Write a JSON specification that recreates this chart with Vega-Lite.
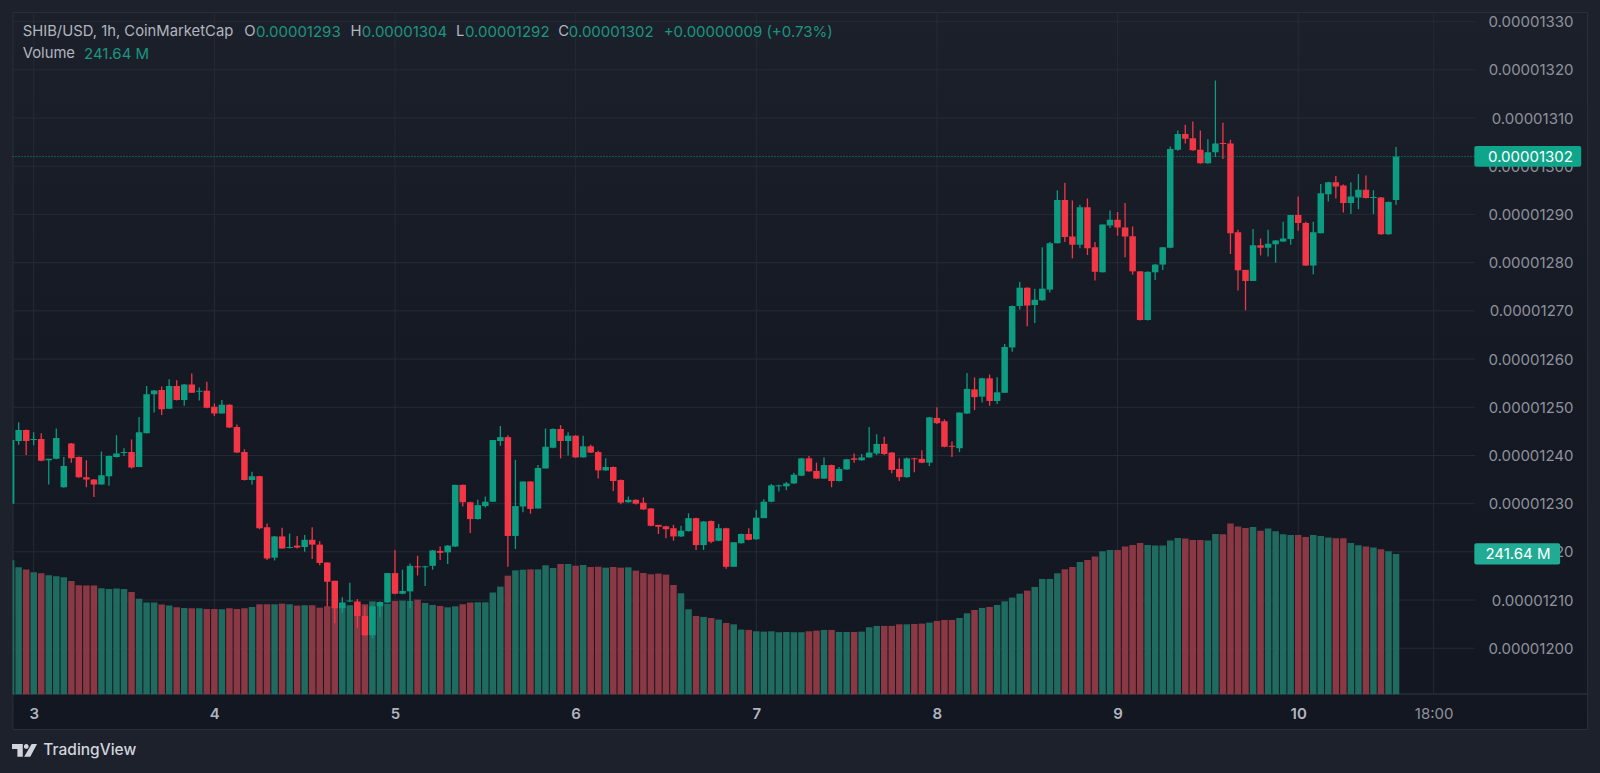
{"$schema":"https://vega.github.io/schema/vega-lite/v6.json","autosize":"none","width":1574.5,"height":717,"padding":{"left":12.5,"top":12,"right":13,"bottom":44},"background":"#1d212c","view":{"stroke":"#2a2e39","fill":{"gradient":"linear","x1":0,"y1":0,"x2":0,"y2":1,"stops":[{"offset":0,"color":"#1c202b"},{"offset":0.5,"color":"#151924"},{"offset":1,"color":"#131722"}]}},
"datasets":{"candles":[
{"t":-3,"o":1230,"c":1243.2,"hi":1243.2,"lo":1230,"v":230.7},
{"t":-2,"o":1243,"c":1245.3,"hi":1246.9,"lo":1242.2,"v":218.7},
{"t":-1,"o":1245.3,"c":1243,"hi":1245.4,"lo":1240.1,"v":214.7},
{"t":0,"o":1243.2,"c":1243.4,"hi":1244.8,"lo":1242.1,"v":210},
{"t":1,"o":1243.4,"c":1238.9,"hi":1244.6,"lo":1238.8,"v":208.4},
{"t":2,"o":1239,"c":1239.3,"hi":1239.3,"lo":1234,"v":204.9},
{"t":3,"o":1239.3,"c":1243.6,"hi":1245.6,"lo":1239.2,"v":203.2},
{"t":4,"o":1233.4,"c":1237.8,"hi":1239.7,"lo":1233.3,"v":201.5},
{"t":5,"o":1242.5,"c":1239.4,"hi":1242.6,"lo":1238.5,"v":195.2},
{"t":6,"o":1239.7,"c":1235.5,"hi":1239.8,"lo":1235.4,"v":187.7},
{"t":7,"o":1235.5,"c":1235,"hi":1239,"lo":1233.4,"v":187.1},
{"t":8,"o":1235,"c":1234,"hi":1235.1,"lo":1231.4,"v":187.1},
{"t":9,"o":1234,"c":1235.9,"hi":1240.8,"lo":1234,"v":182.5},
{"t":10,"o":1235.7,"c":1239.9,"hi":1240,"lo":1233.7,"v":181.4},
{"t":11,"o":1239.7,"c":1240.4,"hi":1244.2,"lo":1239.6,"v":182},
{"t":12,"o":1240.5,"c":1240.7,"hi":1241.5,"lo":1239.9,"v":181.4},
{"t":13,"o":1240.7,"c":1237.5,"hi":1243.3,"lo":1237.3,"v":176.2},
{"t":14,"o":1237.6,"c":1244.8,"hi":1248,"lo":1237.6,"v":164.7},
{"t":15,"o":1244.6,"c":1252.7,"hi":1254.4,"lo":1244.6,"v":157.9},
{"t":16,"o":1252.7,"c":1253.5,"hi":1253.6,"lo":1248.9,"v":157.9},
{"t":17,"o":1253.6,"c":1249.6,"hi":1254.3,"lo":1248.4,"v":154.4},
{"t":18,"o":1249.7,"c":1254.4,"hi":1255.8,"lo":1249.7,"v":152.7},
{"t":19,"o":1254.4,"c":1251.5,"hi":1255.6,"lo":1251.4,"v":149.8},
{"t":20,"o":1251.5,"c":1254.7,"hi":1254.8,"lo":1250.3,"v":148.7},
{"t":21,"o":1254.7,"c":1253,"hi":1257,"lo":1253,"v":148.1},
{"t":22,"o":1253.2,"c":1253.4,"hi":1254.1,"lo":1251.4,"v":148.1},
{"t":23,"o":1253.4,"c":1249.9,"hi":1255.3,"lo":1249.8,"v":146.9},
{"t":24,"o":1250.1,"c":1248.7,"hi":1250.8,"lo":1248.2,"v":146.9},
{"t":25,"o":1248.7,"c":1250.5,"hi":1251.5,"lo":1248.7,"v":146.4},
{"t":26,"o":1250.5,"c":1245.8,"hi":1250.6,"lo":1245.7,"v":148.1},
{"t":27,"o":1245.9,"c":1240.6,"hi":1246.4,"lo":1240.5,"v":146.9},
{"t":28,"o":1240.7,"c":1234.9,"hi":1241.3,"lo":1234.8,"v":148.1},
{"t":29,"o":1234.9,"c":1235.7,"hi":1236.6,"lo":1234,"v":150.4},
{"t":30,"o":1235.7,"c":1224.9,"hi":1235.8,"lo":1224.7,"v":155},
{"t":31,"o":1225.1,"c":1218.6,"hi":1225.9,"lo":1218.3,"v":155},
{"t":32,"o":1218.8,"c":1223.2,"hi":1223.3,"lo":1218.2,"v":155},
{"t":33,"o":1223.2,"c":1220.7,"hi":1225,"lo":1220.7,"v":156.1},
{"t":34,"o":1220.8,"c":1221,"hi":1223.8,"lo":1220.7,"v":155},
{"t":35,"o":1221.3,"c":1220.9,"hi":1223.3,"lo":1220.7,"v":152.7},
{"t":36,"o":1221,"c":1222.5,"hi":1223.5,"lo":1220,"v":153.3},
{"t":37,"o":1222.5,"c":1221.5,"hi":1225.1,"lo":1218.5,"v":153.3},
{"t":38,"o":1221.5,"c":1217.7,"hi":1222.2,"lo":1217.2,"v":149.2},
{"t":39,"o":1217.8,"c":1213.8,"hi":1217.8,"lo":1208.6,"v":151.5},
{"t":40,"o":1214,"c":1208.3,"hi":1214,"lo":1205.2,"v":151.5},
{"t":41,"o":1208.3,"c":1209.5,"hi":1210.6,"lo":1207.3,"v":153.3},
{"t":42,"o":1209.7,"c":1209.9,"hi":1213.6,"lo":1209.6,"v":153.3},
{"t":43,"o":1209.7,"c":1206.7,"hi":1210.2,"lo":1204.2,"v":156.1},
{"t":44,"o":1206.7,"c":1202.7,"hi":1208.7,"lo":1202.6,"v":155},
{"t":45,"o":1202.7,"c":1208.7,"hi":1208.8,"lo":1202.1,"v":160},
{"t":46,"o":1208.7,"c":1209.6,"hi":1209.7,"lo":1206.4,"v":157.9},
{"t":47,"o":1209.5,"c":1215.6,"hi":1215.6,"lo":1209.4,"v":156},
{"t":48,"o":1215.6,"c":1211.3,"hi":1220.4,"lo":1211.2,"v":160.7},
{"t":49,"o":1211.3,"c":1211.9,"hi":1216.3,"lo":1211.2,"v":161.3},
{"t":50,"o":1211.8,"c":1217.1,"hi":1217.6,"lo":1208.3,"v":160.7},
{"t":51,"o":1217,"c":1216.8,"hi":1219.2,"lo":1215.1,"v":163},
{"t":52,"o":1216.8,"c":1217,"hi":1217.1,"lo":1212.9,"v":157.3},
{"t":53,"o":1217.1,"c":1220.3,"hi":1220.4,"lo":1216.3,"v":153.8},
{"t":54,"o":1220.2,"c":1219.8,"hi":1221.1,"lo":1218.3,"v":152.1},
{"t":55,"o":1219.9,"c":1221.3,"hi":1221.4,"lo":1217.5,"v":149.8},
{"t":56,"o":1221.1,"c":1233.9,"hi":1233.9,"lo":1221,"v":151.5},
{"t":57,"o":1233.9,"c":1230.3,"hi":1234,"lo":1229.4,"v":155},
{"t":58,"o":1230.3,"c":1226.8,"hi":1230.4,"lo":1223.9,"v":157.9},
{"t":59,"o":1226.8,"c":1229.7,"hi":1230.8,"lo":1226.7,"v":158.4},
{"t":60,"o":1229.5,"c":1230.4,"hi":1231.5,"lo":1229.2,"v":158.4},
{"t":61,"o":1230.4,"c":1243.2,"hi":1243.2,"lo":1230.4,"v":175.3},
{"t":62,"o":1243,"c":1243.8,"hi":1246.1,"lo":1242,"v":185.4},
{"t":63,"o":1243.8,"c":1223.3,"hi":1244.2,"lo":1216.9,"v":204.2},
{"t":64,"o":1223.3,"c":1229.5,"hi":1239.1,"lo":1220.6,"v":213.4},
{"t":65,"o":1229.4,"c":1234.6,"hi":1234.6,"lo":1228.2,"v":214.6},
{"t":66,"o":1234.6,"c":1228.9,"hi":1234.7,"lo":1227.9,"v":215.1},
{"t":67,"o":1229,"c":1237.4,"hi":1238,"lo":1229,"v":215.1},
{"t":68,"o":1237.3,"c":1241.8,"hi":1245.6,"lo":1237.3,"v":222},
{"t":69,"o":1241.6,"c":1245.5,"hi":1245.6,"lo":1241.5,"v":217.4},
{"t":70,"o":1245.5,"c":1243,"hi":1246.3,"lo":1239.4,"v":224.3},
{"t":71,"o":1243,"c":1244.1,"hi":1244.8,"lo":1240,"v":224.3},
{"t":72,"o":1244.1,"c":1239.6,"hi":1244.2,"lo":1239.5,"v":221.4},
{"t":73,"o":1239.6,"c":1241.9,"hi":1244.1,"lo":1239.6,"v":222.6},
{"t":74,"o":1241.9,"c":1240.6,"hi":1242.2,"lo":1240.5,"v":219.2},
{"t":75,"o":1240.7,"c":1236.9,"hi":1241,"lo":1235.2,"v":219.8},
{"t":76,"o":1236.9,"c":1237.6,"hi":1239.4,"lo":1236.8,"v":218},
{"t":77,"o":1237.6,"c":1234.7,"hi":1237.7,"lo":1232.6,"v":219.2},
{"t":78,"o":1234.9,"c":1230.2,"hi":1235,"lo":1229.9,"v":218},
{"t":79,"o":1230.3,"c":1230.8,"hi":1231.5,"lo":1230.2,"v":218.6},
{"t":80,"o":1230.8,"c":1230,"hi":1230.9,"lo":1229.8,"v":212.9},
{"t":81,"o":1230.2,"c":1228.8,"hi":1231.3,"lo":1228.7,"v":208.9},
{"t":82,"o":1229,"c":1225.4,"hi":1229.1,"lo":1225.3,"v":206.6},
{"t":83,"o":1225.6,"c":1225.2,"hi":1225.6,"lo":1223.7,"v":207.8},
{"t":84,"o":1225.3,"c":1224.7,"hi":1225.4,"lo":1222.8,"v":206},
{"t":85,"o":1224.9,"c":1223.2,"hi":1225.6,"lo":1222.3,"v":188.2},
{"t":86,"o":1223.2,"c":1224.4,"hi":1225.4,"lo":1223.1,"v":173.9},
{"t":87,"o":1224.3,"c":1227,"hi":1228,"lo":1224.2,"v":146.4},
{"t":88,"o":1227,"c":1221.4,"hi":1227.1,"lo":1220.4,"v":134.9},
{"t":89,"o":1221.4,"c":1226.3,"hi":1226.4,"lo":1220.4,"v":133.2},
{"t":90,"o":1226.4,"c":1222.1,"hi":1226.5,"lo":1221.8,"v":131.4},
{"t":91,"o":1222.3,"c":1224.9,"hi":1225.8,"lo":1222.2,"v":128.6},
{"t":92,"o":1224.9,"c":1216.9,"hi":1225,"lo":1216.5,"v":122.8},
{"t":93,"o":1216.9,"c":1222,"hi":1222,"lo":1216.9,"v":120.5},
{"t":94,"o":1221.8,"c":1223.7,"hi":1223.8,"lo":1221.7,"v":111.4},
{"t":95,"o":1223.7,"c":1222.5,"hi":1224.9,"lo":1222.4,"v":110.8},
{"t":96,"o":1222.6,"c":1227.1,"hi":1228.7,"lo":1222.5,"v":108.5},
{"t":97,"o":1227,"c":1230.4,"hi":1230.9,"lo":1227,"v":107.9},
{"t":98,"o":1230.4,"c":1233.8,"hi":1234.1,"lo":1230.3,"v":108.5},
{"t":99,"o":1233.6,"c":1233.8,"hi":1233.9,"lo":1232.5,"v":106.8},
{"t":100,"o":1233.6,"c":1234.2,"hi":1234.5,"lo":1232.8,"v":107.3},
{"t":101,"o":1234.2,"c":1236,"hi":1236.4,"lo":1234.1,"v":106.8},
{"t":102,"o":1235.8,"c":1239.4,"hi":1239.5,"lo":1235.7,"v":106.8},
{"t":103,"o":1239.4,"c":1236.7,"hi":1239.9,"lo":1236.6,"v":108.5},
{"t":104,"o":1236.8,"c":1235.2,"hi":1238.5,"lo":1235.1,"v":109.6},
{"t":105,"o":1235.2,"c":1238,"hi":1239.6,"lo":1235.1,"v":110.8},
{"t":106,"o":1238,"c":1234.7,"hi":1238.1,"lo":1233.4,"v":110.8},
{"t":107,"o":1234.7,"c":1237.2,"hi":1237.6,"lo":1234.6,"v":107.3},
{"t":108,"o":1237.1,"c":1239.2,"hi":1239.3,"lo":1237,"v":107.3},
{"t":109,"o":1239.4,"c":1239.1,"hi":1240.4,"lo":1238.5,"v":107.3},
{"t":110,"o":1239,"c":1239.6,"hi":1240.3,"lo":1238.9,"v":107.9},
{"t":111,"o":1239.6,"c":1240.6,"hi":1245.9,"lo":1239.5,"v":115.4},
{"t":112,"o":1240.4,"c":1242.4,"hi":1244.4,"lo":1240.1,"v":117.7},
{"t":113,"o":1242.4,"c":1240.3,"hi":1243.9,"lo":1240.1,"v":117.7},
{"t":114,"o":1240.6,"c":1237,"hi":1240.7,"lo":1236.3,"v":117.7},
{"t":115,"o":1237.2,"c":1235.5,"hi":1239.4,"lo":1234.7,"v":120.5},
{"t":116,"o":1235.5,"c":1239.4,"hi":1239.6,"lo":1235.4,"v":120.5},
{"t":117,"o":1239.4,"c":1239.2,"hi":1239.5,"lo":1236.5,"v":121.1},
{"t":118,"o":1239.3,"c":1238.5,"hi":1241.1,"lo":1238.4,"v":121.7},
{"t":119,"o":1238.5,"c":1247.9,"hi":1248,"lo":1237.8,"v":123.4},
{"t":120,"o":1247.8,"c":1246.7,"hi":1250,"lo":1246.5,"v":126.3},
{"t":121,"o":1247.1,"c":1241.8,"hi":1247.5,"lo":1241.7,"v":128},
{"t":122,"o":1242,"c":1241.8,"hi":1242.9,"lo":1239.7,"v":128},
{"t":123,"o":1241.5,"c":1248.9,"hi":1248.9,"lo":1240.7,"v":131.4},
{"t":124,"o":1248.7,"c":1253.8,"hi":1257.1,"lo":1248.6,"v":139.5},
{"t":125,"o":1253.7,"c":1252.1,"hi":1256.2,"lo":1249.4,"v":145.2},
{"t":126,"o":1252.2,"c":1256,"hi":1256.1,"lo":1251,"v":148.7},
{"t":127,"o":1256,"c":1251.3,"hi":1256.8,"lo":1250.3,"v":150.4},
{"t":128,"o":1251.3,"c":1253.1,"hi":1256.2,"lo":1250.7,"v":153.8},
{"t":129,"o":1253,"c":1262.5,"hi":1263.1,"lo":1253,"v":160.1},
{"t":130,"o":1262.4,"c":1271,"hi":1271.1,"lo":1261.5,"v":166.5},
{"t":131,"o":1271,"c":1274.8,"hi":1276,"lo":1270.3,"v":173.3},
{"t":132,"o":1274.8,"c":1271.1,"hi":1274.9,"lo":1266.8,"v":178.5},
{"t":133,"o":1271.2,"c":1272.3,"hi":1274.6,"lo":1267.5,"v":184.8},
{"t":134,"o":1272.2,"c":1274.6,"hi":1283.2,"lo":1272.1,"v":198.6},
{"t":135,"o":1274.4,"c":1284,"hi":1284.3,"lo":1273.8,"v":198.6},
{"t":136,"o":1284,"c":1293,"hi":1295,"lo":1284,"v":208.4},
{"t":137,"o":1293,"c":1285.3,"hi":1296.6,"lo":1284.3,"v":215.3},
{"t":138,"o":1285.4,"c":1283.7,"hi":1292.9,"lo":1280.9,"v":219.3},
{"t":139,"o":1283.7,"c":1291.5,"hi":1292,"lo":1283,"v":227.9},
{"t":140,"o":1291.5,"c":1283,"hi":1293.3,"lo":1281.6,"v":231.3},
{"t":141,"o":1283.2,"c":1278.1,"hi":1284.3,"lo":1276.3,"v":237.1},
{"t":142,"o":1278,"c":1287.9,"hi":1287.9,"lo":1278,"v":246.2},
{"t":143,"o":1287.7,"c":1288.9,"hi":1290.8,"lo":1287.2,"v":248.5},
{"t":144,"o":1288.9,"c":1287.3,"hi":1290.5,"lo":1285.6,"v":248.5},
{"t":145,"o":1287.3,"c":1285.4,"hi":1292.4,"lo":1281.1,"v":254.3},
{"t":146,"o":1285.5,"c":1278.2,"hi":1287.5,"lo":1277.5,"v":257.2},
{"t":147,"o":1278.2,"c":1268.1,"hi":1278.2,"lo":1268,"v":260.6},
{"t":148,"o":1268.1,"c":1278.1,"hi":1278.2,"lo":1268,"v":257.2},
{"t":149,"o":1278,"c":1279.6,"hi":1279.7,"lo":1276.4,"v":256},
{"t":150,"o":1279.6,"c":1283.2,"hi":1283.2,"lo":1278.5,"v":256},
{"t":151,"o":1283.1,"c":1303.6,"hi":1304.1,"lo":1283,"v":264.6},
{"t":152,"o":1303.4,"c":1306.7,"hi":1307.4,"lo":1303.2,"v":269.2},
{"t":153,"o":1306.7,"c":1305.7,"hi":1308.6,"lo":1304.7,"v":268.1},
{"t":154,"o":1305.8,"c":1303.3,"hi":1309.3,"lo":1303.2,"v":265.8},
{"t":155,"o":1303.4,"c":1300.6,"hi":1307.4,"lo":1300.5,"v":265.8},
{"t":156,"o":1300.6,"c":1302.9,"hi":1305.6,"lo":1300.5,"v":264.6},
{"t":157,"o":1302.9,"c":1304.7,"hi":1317.8,"lo":1301.9,"v":276.1},
{"t":158,"o":1304.8,"c":1304.6,"hi":1309,"lo":1301.5,"v":275.5},
{"t":159,"o":1304.7,"c":1286.1,"hi":1305.5,"lo":1281.8,"v":293.9},
{"t":160,"o":1286.3,"c":1278.4,"hi":1286.8,"lo":1274.2,"v":288.7},
{"t":161,"o":1278.5,"c":1276.2,"hi":1278.5,"lo":1270.1,"v":286.4},
{"t":162,"o":1276.2,"c":1283.6,"hi":1287,"lo":1276.2,"v":288.1},
{"t":163,"o":1283.6,"c":1283.1,"hi":1285,"lo":1281.5,"v":281.8},
{"t":164,"o":1283.1,"c":1283.9,"hi":1286.8,"lo":1281.3,"v":285.3},
{"t":165,"o":1283.8,"c":1284.6,"hi":1284.7,"lo":1280,"v":280.7},
{"t":166,"o":1284.4,"c":1285,"hi":1288.5,"lo":1284.3,"v":275.5},
{"t":167,"o":1284.9,"c":1289.9,"hi":1289.9,"lo":1283.7,"v":274.4},
{"t":168,"o":1289.9,"c":1288.2,"hi":1293.7,"lo":1286.6,"v":274.4},
{"t":169,"o":1288.2,"c":1279.4,"hi":1288.5,"lo":1279.3,"v":270.9},
{"t":170,"o":1279.4,"c":1286.3,"hi":1288.5,"lo":1277.6,"v":274.4},
{"t":171,"o":1286.1,"c":1294.4,"hi":1296.3,"lo":1286.1,"v":272.7},
{"t":172,"o":1294.2,"c":1296.7,"hi":1296.8,"lo":1292.7,"v":269.8},
{"t":173,"o":1296.7,"c":1295.8,"hi":1298,"lo":1293.3,"v":268.6},
{"t":174,"o":1296,"c":1292.4,"hi":1296.2,"lo":1290.4,"v":268.6},
{"t":175,"o":1292.4,"c":1293.7,"hi":1296.7,"lo":1290.1,"v":260.6},
{"t":176,"o":1293.5,"c":1295.1,"hi":1298.4,"lo":1291.1,"v":256.6},
{"t":177,"o":1295.1,"c":1293.4,"hi":1298.1,"lo":1293.3,"v":254.3},
{"t":178,"o":1293.4,"c":1293.6,"hi":1295,"lo":1290.1,"v":252.6},
{"t":179,"o":1293.5,"c":1285.9,"hi":1293.6,"lo":1285.8,"v":249.7},
{"t":180,"o":1285.9,"c":1292.6,"hi":1292.7,"lo":1285.8,"v":246.2},
{"t":181,"o":1293,"c":1302,"hi":1304,"lo":1292,"v":241.64}
]},
"encoding":{"x":{"field":"t","type":"quantitative","title":null,"scale":{"domain":[-2.817,206.37],"nice":false,"zero":false,"padding":0},
"axis":{"orient":"bottom","offset":-16,"labelPadding":0,"ticks":false,"domain":false,"grid":false,"title":null,"values":[0,24,48,72,96,120,144,168,186],"labelExpr":"datum.value==186?'18:00':''+(3+datum.value/24)","labelFont":"Inter","labelFontSize":15,"labelBaseline":"middle","labelAlign":"center","labelColor":{"condition":{"test":"datum.value==186","value":"#8f929b"},"value":"#b2b5be"},"labelFontWeight":{"condition":{"test":"datum.value==186","value":"normal"},"value":600},"labelOverlap":false,"labelBound":false,"labelFlush":false}}},
"layer":[
{"data":{"values":[{"t":0},{"t":24},{"t":48},{"t":72},{"t":96},{"t":120},{"t":144},{"t":168},{"t":186}]},
"mark":{"type":"rule","color":"#262a35","strokeWidth":1},
"encoding":{"y":{"datum":1332,"type":"quantitative","axis":null,"scale":{"domain":[1183.25,1332],"nice":false,"zero":false}},"y2":{"datum":1190.5}}},
{"data":{"values":[{"p":1200,"t":-2.817,"b":191.5},{"p":1210,"t":-2.817,"b":191.5},{"p":1220,"t":-2.817,"b":191.5},{"p":1230,"t":-2.817,"b":191.5},{"p":1240,"t":-2.817,"b":191.5},{"p":1250,"t":-2.817,"b":191.5},{"p":1260,"t":-2.817,"b":191.5},{"p":1270,"t":-2.817,"b":191.5},{"p":1280,"t":-2.817,"b":191.5},{"p":1290,"t":-2.817,"b":191.5},{"p":1300,"t":-2.817,"b":191.5},{"p":1310,"t":-2.817,"b":191.5},{"p":1320,"t":-2.817,"b":191.5},{"p":1330,"t":-2.817,"b":191.5}]},
"mark":{"type":"rule","color":"#262a35","strokeWidth":1},
"encoding":{"x2":{"field":"b"},
"y":{"field":"p","type":"quantitative","title":null,"scale":{"domain":[1183.25,1332],"nice":false,"zero":false},
"axis":{"orient":"right","offset":-14,"labelPadding":0,"ticks":false,"domain":false,"grid":false,"title":null,"values":[1200,1210,1220,1230,1240,1250,1260,1270,1280,1290,1300,1310,1320,1330],"labelExpr":"format(datum.value*1e-8,'.8f')","labelFont":"Inter","labelFontSize":15,"labelColor":"#8f929b","labelAlign":"right","labelBaseline":"middle","labelOverlap":false,"labelBound":false,"labelFlush":false}}}},
{"data":{"values":[{"p":1190.5,"t":-2.817,"b":206.37}]},"mark":{"type":"rule","color":"#2a2e39","strokeWidth":1.5},
"encoding":{"x2":{"field":"b"},"y":{"field":"p","type":"quantitative","axis":null,"scale":{"domain":[1183.25,1332],"nice":false,"zero":false}}}},
{"data":{"name":"candles"},"mark":{"type":"bar","size":6.5,"clip":true},
"encoding":{"y":{"field":"v","type":"quantitative","axis":null,"stack":null,"scale":{"domain":[-59.8,1174.9],"nice":false,"zero":false}},"y2":{"datum":0},
"color":{"condition":{"test":"datum.c>=datum.o","value":"#1f6b60"},"value":"#8a3843"}}},
{"data":{"name":"candles"},"mark":{"type":"rule","strokeWidth":1.3,"clip":true},
"encoding":{"y":{"field":"lo","type":"quantitative","axis":null,"scale":{"domain":[1183.25,1332],"nice":false,"zero":false}},"y2":{"field":"hi"},
"color":{"condition":{"test":"datum.c>=datum.o","value":"#0b9c82"},"value":"#f23645"}}},
{"data":{"name":"candles"},"mark":{"type":"bar","size":6.5,"clip":true},
"encoding":{"y":{"field":"o","type":"quantitative","axis":null,"stack":null,"scale":{"domain":[1183.25,1332],"nice":false,"zero":false}},"y2":{"field":"c"},
"color":{"condition":{"test":"datum.c>=datum.o","value":"#0b9c82"},"value":"#f23645"}}},
{"data":{"values":[{"p":1302,"t":-2.817,"b":191.5}]},"mark":{"type":"rule","color":"#0b9c82","strokeWidth":1,"strokeDash":[1,2]},
"encoding":{"x2":{"field":"b"},"y":{"field":"p","type":"quantitative","axis":null,"scale":{"domain":[1183.25,1332],"nice":false,"zero":false}}}},
{"data":{"values":[{"t":191.4,"b":205.6,"p1":1299.9,"p2":1304.2,"k":"price"},{"t":191.4,"b":202.8,"p1":1217.4,"p2":1221.8,"k":"vol"}]},
"mark":{"type":"rect","cornerRadius":2},
"encoding":{"x2":{"field":"b"},"y":{"field":"p1","type":"quantitative","axis":null,"scale":{"domain":[1183.25,1332],"nice":false,"zero":false}},"y2":{"field":"p2"},
"color":{"condition":{"test":"datum.k=='price'","value":"#0ea58a"},"value":"#22ab94"}}},
{"data":{"values":[{"t":204.5,"p":1302,"label":"0.00001302"}]},"mark":{"type":"text","align":"right","baseline":"middle","font":"Inter","fontSize":15,"color":"#ffffff"},
"encoding":{"y":{"field":"p","type":"quantitative","axis":null,"scale":{"domain":[1183.25,1332],"nice":false,"zero":false}},"text":{"field":"label"}}},
{"data":{"values":[{"t":197.2,"p":1219.6,"label":"241.64 M"}]},"mark":{"type":"text","align":"center","baseline":"middle","font":"Inter","fontSize":15,"color":"#ffffff"},
"encoding":{"y":{"field":"p","type":"quantitative","axis":null,"scale":{"domain":[1183.25,1332],"nice":false,"zero":false}},"text":{"field":"label"}}},
{"data":{"values":[{"t":-1.46,"p":1327.8,"label":"SHIB/USD, 1h, CoinMarketCap"},{"t":27.98,"p":1327.8,"label":"O"},{"t":42.1,"p":1327.8,"label":"H"},{"t":56.1,"p":1327.8,"label":"L"},{"t":69.7,"p":1327.8,"label":"C"},{"t":-1.46,"p":1323.3,"label":"Volume"}]},
"mark":{"type":"text","align":"left","baseline":"middle","font":"Inter","fontSize":14.8,"color":"#b2b5be"},
"encoding":{"y":{"field":"p","type":"quantitative","axis":null,"scale":{"domain":[1183.25,1332],"nice":false,"zero":false}},"text":{"field":"label"}}},
{"data":{"values":[{"t":29.53,"p":1327.8,"label":"0.00001293"},{"t":43.6,"p":1327.8,"label":"0.00001304"},{"t":57.3,"p":1327.8,"label":"0.00001292"},{"t":71.1,"p":1327.8,"label":"0.00001302"},{"t":83.7,"p":1327.8,"label":"+0.00000009 (+0.73%)"},{"t":6.68,"p":1323.3,"label":"241.64 M"}]},
"mark":{"type":"text","align":"left","baseline":"middle","font":"Inter","fontSize":15,"color":"#1a9680"},
"encoding":{"y":{"field":"p","type":"quantitative","axis":null,"scale":{"domain":[1183.25,1332],"nice":false,"zero":false}},"text":{"field":"label"}}},
{"data":{"values":[{"t":1.28,"p":1178.8,"label":"TradingView"}]},
"mark":{"type":"text","align":"left","baseline":"middle","font":"Inter","fontSize":15.5,"fontWeight":500,"color":"#d1d4dc"},
"encoding":{"y":{"field":"p","type":"quantitative","axis":null,"scale":{"domain":[1183.25,1332],"nice":false,"zero":false}},"text":{"field":"label"}}},
{"data":{"values":[{"t":-1.22,"p":1178.8}]},
"mark":{"type":"point","filled":true,"opacity":1,"size":625,"color":"#d1d4dc","strokeWidth":0,"shape":"M-1 -.51L-.14 -.51L-.14 .51L-.57 .51L-.57 -.11L-1 -.11ZM-.05 -.32A.19 .19 0 1 0 .33 -.32A.19 .19 0 1 0 -.05 -.32ZM.57 -.51L1 -.51L.46 .51L-.03 .51Z"},
"encoding":{"y":{"field":"p","type":"quantitative","axis":null,"scale":{"domain":[1183.25,1332],"nice":false,"zero":false}}}}
],
"resolve":{"scale":{"y":"independent"},"axis":{"y":"independent"}}}
